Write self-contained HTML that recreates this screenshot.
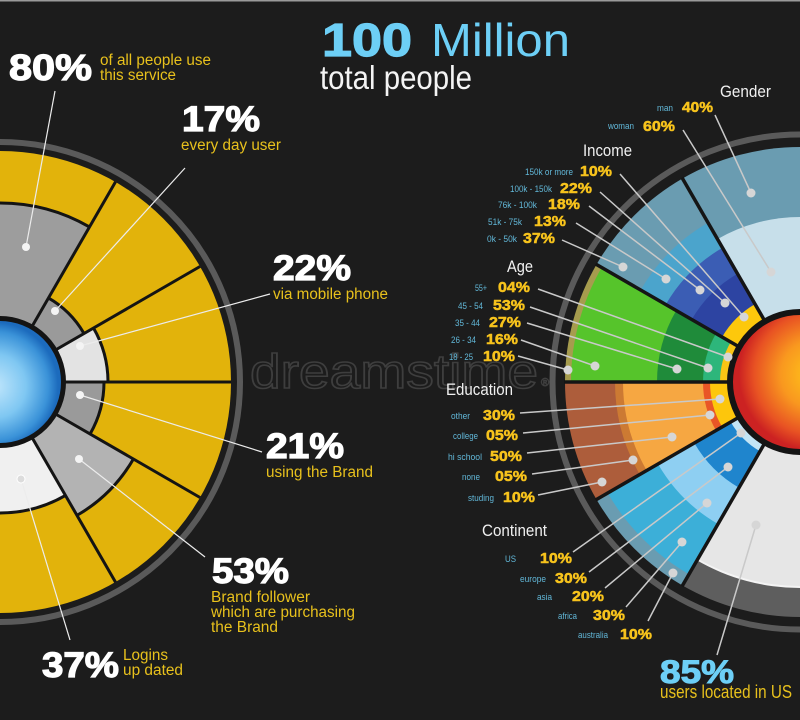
<!DOCTYPE html>
<html>
<head>
<meta charset="utf-8">
<style>
html,body{margin:0;padding:0;background:#1c1c1c;}
svg{display:block;}
text{font-family:"Liberation Sans",Arial,sans-serif;}
.pw{font-weight:bold;fill:#fff;stroke:#fff;stroke-width:1.2;}
.yd{fill:#e8c11c;font-size:15.5px;}
.hd{fill:#f0f0f0;font-size:17px;}
.sl{fill:#62b8d9;font-size:9.5px;}
.py{font-weight:bold;fill:#f7c31c;stroke:#f7c31c;stroke-width:0.5;font-size:14.5px;}
</style>
</head>
<body>
<svg width="800" height="720" viewBox="0 0 800 720" xmlns="http://www.w3.org/2000/svg">
<defs>
<radialGradient id="blue" gradientUnits="userSpaceOnUse" cx="-6" cy="386" r="64" fx="-6" fy="386">
<stop offset="0" stop-color="#c2e7fc"/>
<stop offset="0.5" stop-color="#7fc7f2"/>
<stop offset="0.85" stop-color="#3a92d8"/>
<stop offset="1" stop-color="#1c6bbd"/>
</radialGradient>
<radialGradient id="orng" gradientUnits="userSpaceOnUse" cx="815" cy="374" r="76" fx="815" fy="374">
<stop offset="0" stop-color="#ffc818"/>
<stop offset="0.45" stop-color="#f9981f"/>
<stop offset="0.8" stop-color="#e85223"/>
<stop offset="1" stop-color="#cc2222"/>
</radialGradient>
</defs>
<rect x="0" y="0" width="800" height="720" fill="#1c1c1c"/>
<rect x="0" y="0" width="800" height="1.5" fill="#9a9a9a"/>

<!-- watermark -->
<text x="250" y="388" font-size="48" fill="none" stroke="#3e3e3e" stroke-width="1.6" textLength="288" lengthAdjust="spacingAndGlyphs">dreamstime</text>
<text x="541" y="386" font-size="11" fill="none" stroke="#3e3e3e" stroke-width="0.8">®</text>

<!-- LEFT CHART -->
<circle cx="0" cy="382" r="240" fill="none" stroke="#5a5a5a" stroke-width="6"/>
<circle cx="0" cy="382" r="231" fill="#e2b30b"/>
<g fill="none">
<circle cx="0" cy="382" r="119.5" stroke="#9d9d9d" stroke-width="119" pathLength="360" stroke-dasharray="70 290" stroke-dashoffset="130"/>
<circle cx="0" cy="382" r="78.5" stroke="#9a9a9a" stroke-width="37" pathLength="360" stroke-dasharray="30 330" stroke-dashoffset="60"/>
<circle cx="0" cy="382" r="84" stroke="#e3e3e3" stroke-width="48" pathLength="360" stroke-dasharray="30 330" stroke-dashoffset="30"/>
<circle cx="0" cy="382" r="82" stroke="#9a9a9a" stroke-width="44" pathLength="360" stroke-dasharray="30 330" stroke-dashoffset="0"/>
<circle cx="0" cy="382" r="107" stroke="#b3b3b3" stroke-width="94" pathLength="360" stroke-dasharray="30 330" stroke-dashoffset="-30"/>
<circle cx="0" cy="382" r="95.5" stroke="#f0f0f0" stroke-width="71" pathLength="360" stroke-dasharray="70 290" stroke-dashoffset="-60"/>
</g>
<g fill="none" stroke="#141414" stroke-width="3">
<circle cx="0" cy="382" r="179" pathLength="360" stroke-dasharray="70 290" stroke-dashoffset="130"/>
<circle cx="0" cy="382" r="97" pathLength="360" stroke-dasharray="30 330" stroke-dashoffset="60"/>
<circle cx="0" cy="382" r="108" pathLength="360" stroke-dasharray="30 330" stroke-dashoffset="30"/>
<circle cx="0" cy="382" r="104" pathLength="360" stroke-dasharray="30 330" stroke-dashoffset="0"/>
<circle cx="0" cy="382" r="154" pathLength="360" stroke-dasharray="30 330" stroke-dashoffset="-30"/>
<circle cx="0" cy="382" r="131" pathLength="360" stroke-dasharray="70 290" stroke-dashoffset="-60"/>
<line x1="30" y1="330" x2="115.5" y2="181.9"/>
<line x1="52" y1="352" x2="200" y2="266.5"/>
<line x1="60" y1="382" x2="231" y2="382"/>
<line x1="52" y1="412" x2="200" y2="497.5"/>
<line x1="30" y1="434" x2="115.5" y2="582.1"/>
</g>
<circle cx="0" cy="382" r="63.5" fill="url(#blue)" stroke="#141414" stroke-width="5"/>

<!-- left leader lines -->
<g stroke="#ececec" stroke-width="1.2">
<line x1="26" y1="247" x2="55" y2="91"/>
<line x1="55" y1="311" x2="185" y2="168"/>
<line x1="80" y1="346" x2="270" y2="294"/>
<line x1="80" y1="395" x2="262" y2="452"/>
<line x1="79" y1="459" x2="205" y2="557"/>
<line x1="21" y1="479" x2="70" y2="640"/>
</g>
<g fill="#f4f4f4">
<circle cx="26" cy="247" r="4"/>
<circle cx="55" cy="311" r="4"/>
<circle cx="80" cy="346" r="4"/>
<circle cx="80" cy="395" r="4"/>
<circle cx="79" cy="459" r="4"/>
<circle cx="21" cy="479" r="4" fill="#dcdcdc" stroke="#fff" stroke-width="1"/>
</g>

<!-- RIGHT CHART -->
<circle cx="800" cy="382" r="247.5" fill="none" stroke="#5a5a5a" stroke-width="6"/>
<g stroke="none">
<!-- Gender 60..120 -->
<path fill="#6a9cb1" d="M800,382 L917.5,178.5 A235,235 0 0 0 682.5,178.5 Z"/>
<path fill="#c7dfea" d="M800,382 L882.5,239.1 A165,165 0 0 0 717.5,239.1 Z"/>
<!-- Income 120..150 -->
<path fill="#6a9cb1" d="M800,382 L682.5,178.5 A235,235 0 0 0 596.5,264.5 Z"/>
<path fill="#4ba4cc" d="M800,382 L708,222.7 A184,184 0 0 0 640.7,290 Z"/>
<path fill="#3b5db4" d="M800,382 L722.5,247.8 A155,155 0 0 0 665.8,304.5 Z"/>
<path fill="#2d44a2" d="M800,382 L737.5,273.7 A125,125 0 0 0 691.7,319.5 Z"/>
<path fill="#fdc80c" d="M800,382 L755,304.1 A90,90 0 0 0 722.1,337 Z"/>
<!-- Age 150..180 -->
<path fill="#a69c4e" d="M800,382 L596.5,264.5 A235,235 0 0 0 565,382 Z"/>
<path fill="#56c42b" d="M800,382 L601.7,267.5 A229,229 0 0 0 571,382 Z"/>
<path fill="#1f8b3a" d="M800,382 L676.2,310.5 A143,143 0 0 0 657,382 Z"/>
<path fill="#2db67b" d="M800,382 L716,333.5 A97,97 0 0 0 703,382 Z"/>
<path fill="#f9c515" d="M800,382 L730.7,342 A80,80 0 0 0 720,382 Z"/>
<!-- Education 180..210 -->
<path fill="#ad5d3b" d="M800,382 L565,382 A235,235 0 0 0 596.5,499.5 Z"/>
<path fill="#cc7a33" d="M800,382 L615,382 A185,185 0 0 0 639.8,474.5 Z"/>
<path fill="#f6a742" d="M800,382 L623,382 A177,177 0 0 0 646.7,470.5 Z"/>
<path fill="#e95626" d="M800,382 L703,382 A97,97 0 0 0 716,430.5 Z"/>
<path fill="#fdc60c" d="M800,382 L710,382 A90,90 0 0 0 722.1,427 Z"/>
<!-- Continent 210..240 -->
<path fill="#6a9cb1" d="M800,382 L596.5,499.5 A235,235 0 0 0 682.5,585.5 Z"/>
<path fill="#3cafd8" d="M800,382 L607.7,493 A222,222 0 0 0 689,574.3 Z"/>
<path fill="#8ecff2" d="M800,382 L658,464 A164,164 0 0 0 718,524 Z"/>
<path fill="#1f85cd" d="M800,382 L694.3,443 A122,122 0 0 0 739,487.7 Z"/>
<path fill="#c3e5f5" d="M800,382 L730.7,422 A80,80 0 0 0 760,451.3 Z"/>
<!-- US 240..300 -->
<path fill="#5e5e5e" d="M800,382 L682.5,585.5 A235,235 0 0 0 917.5,585.5 Z"/>
<path fill="#f4f4f4" d="M800,382 L697,560.4 A206,206 0 0 0 903,560.4 Z"/>
<path fill="#e6e6e6" d="M800,382 L698,558.7 A204,204 0 0 0 902,558.7 Z"/>
</g>
<g stroke="#151515" stroke-width="3.5">
<line x1="766" y1="323.1" x2="682" y2="177.6"/>
<line x1="741.1" y1="348" x2="595.6" y2="264"/>
<line x1="732" y1="382" x2="564" y2="382"/>
<line x1="741.1" y1="416" x2="595.6" y2="500"/>
<line x1="766" y1="440.9" x2="682" y2="586.4"/>
</g>
<circle cx="800" cy="382" r="70" fill="url(#orng)" stroke="#141414" stroke-width="6"/>

<!-- right leader lines -->
<g stroke="#c9c9c9" stroke-width="1.5">
<line x1="715" y1="115" x2="751" y2="193"/>
<line x1="683" y1="130" x2="771" y2="272"/>
<line x1="620" y1="174" x2="744" y2="317"/>
<line x1="600" y1="192" x2="725" y2="303"/>
<line x1="589" y1="206" x2="700" y2="290"/>
<line x1="576" y1="223" x2="666" y2="279"/>
<line x1="562" y1="240" x2="623" y2="267"/>
<line x1="538" y1="289" x2="728" y2="357"/>
<line x1="530" y1="307" x2="708" y2="368"/>
<line x1="527" y1="323" x2="677" y2="369"/>
<line x1="521" y1="340" x2="595" y2="366"/>
<line x1="518" y1="356" x2="568" y2="370"/>
<line x1="520" y1="413" x2="720" y2="399"/>
<line x1="523" y1="433" x2="710" y2="415"/>
<line x1="527" y1="453" x2="672" y2="437"/>
<line x1="532" y1="474" x2="633" y2="460"/>
<line x1="538" y1="495" x2="602" y2="482"/>
<line x1="573" y1="552" x2="741" y2="433"/>
<line x1="589" y1="572" x2="728" y2="467"/>
<line x1="605" y1="588" x2="707" y2="503"/>
<line x1="626" y1="607" x2="682" y2="542"/>
<line x1="648" y1="621" x2="673" y2="573"/>
<line x1="756" y1="525" x2="717" y2="655"/>
</g>
<g fill="#d6d6d6">
<circle cx="751" cy="193" r="4.5"/>
<circle cx="771" cy="272" r="4.5"/>
<circle cx="744" cy="317" r="4.5"/>
<circle cx="725" cy="303" r="4.5"/>
<circle cx="700" cy="290" r="4.5"/>
<circle cx="666" cy="279" r="4.5"/>
<circle cx="623" cy="267" r="4.5"/>
<circle cx="728" cy="357" r="4.5"/>
<circle cx="708" cy="368" r="4.5"/>
<circle cx="677" cy="369" r="4.5"/>
<circle cx="595" cy="366" r="4.5"/>
<circle cx="568" cy="370" r="4.5"/>
<circle cx="720" cy="399" r="4.5"/>
<circle cx="710" cy="415" r="4.5"/>
<circle cx="672" cy="437" r="4.5"/>
<circle cx="633" cy="460" r="4.5"/>
<circle cx="602" cy="482" r="4.5"/>
<circle cx="741" cy="433" r="4.5"/>
<circle cx="728" cy="467" r="4.5"/>
<circle cx="707" cy="503" r="4.5"/>
<circle cx="682" cy="542" r="4.5"/>
<circle cx="673" cy="573" r="4.5"/>
<circle cx="756" cy="525" r="4.5"/>
</g>

<!-- TITLE -->
<text x="322" y="56" font-size="46" font-weight="bold" fill="#6dcff6" stroke="#6dcff6" stroke-width="1.2" textLength="90" lengthAdjust="spacingAndGlyphs">100</text>
<text x="431" y="56" font-size="46" fill="#6dcff6" textLength="139" lengthAdjust="spacingAndGlyphs">Million</text>
<text x="320" y="89" font-size="33" fill="#f4f4f4" textLength="152" lengthAdjust="spacingAndGlyphs">total people</text>

<!-- LEFT TEXT -->
<text class="pw" x="9" y="80" font-size="36" textLength="83" lengthAdjust="spacingAndGlyphs">80%</text>
<text class="yd" x="100" y="65" textLength="111" lengthAdjust="spacingAndGlyphs">of all people use</text>
<text class="yd" x="100" y="80" textLength="76" lengthAdjust="spacingAndGlyphs">this service</text>

<text class="pw" x="182" y="131" font-size="35" textLength="78" lengthAdjust="spacingAndGlyphs">17%</text>
<text class="yd" x="181" y="150" textLength="100" lengthAdjust="spacingAndGlyphs">every day user</text>

<text class="pw" x="273" y="280" font-size="35" textLength="78" lengthAdjust="spacingAndGlyphs">22%</text>
<text class="yd" x="273" y="299" textLength="115" lengthAdjust="spacingAndGlyphs">via mobile phone</text>

<text class="pw" x="266" y="458" font-size="35" textLength="78" lengthAdjust="spacingAndGlyphs">21%</text>
<text class="yd" x="266" y="477" textLength="107" lengthAdjust="spacingAndGlyphs">using the Brand</text>

<text class="pw" x="212" y="583" font-size="35" textLength="77" lengthAdjust="spacingAndGlyphs">53%</text>
<text class="yd" x="211" y="602" textLength="99" lengthAdjust="spacingAndGlyphs">Brand follower</text>
<text class="yd" x="211" y="617" textLength="144" lengthAdjust="spacingAndGlyphs">which are purchasing</text>
<text class="yd" x="211" y="632" textLength="67" lengthAdjust="spacingAndGlyphs">the Brand</text>

<text class="pw" x="42" y="677" font-size="35" textLength="77" lengthAdjust="spacingAndGlyphs">37%</text>
<text class="yd" x="123" y="660" textLength="45" lengthAdjust="spacingAndGlyphs">Logins</text>
<text class="yd" x="123" y="675" textLength="60" lengthAdjust="spacingAndGlyphs">up dated</text>

<!-- RIGHT TEXT -->
<text class="hd" x="720" y="97" textLength="51" lengthAdjust="spacingAndGlyphs">Gender</text>
<text class="sl" x="657" y="111" textLength="16" lengthAdjust="spacingAndGlyphs">man</text>
<text class="py" x="682" y="112" textLength="31" lengthAdjust="spacingAndGlyphs">40%</text>
<text class="sl" x="608" y="129" textLength="26" lengthAdjust="spacingAndGlyphs">woman</text>
<text class="py" x="643" y="131" textLength="32" lengthAdjust="spacingAndGlyphs">60%</text>

<text class="hd" x="583" y="156" textLength="49" lengthAdjust="spacingAndGlyphs">Income</text>
<text class="sl" x="525" y="175" textLength="48" lengthAdjust="spacingAndGlyphs">150k or more</text>
<text class="py" x="580" y="176" textLength="32" lengthAdjust="spacingAndGlyphs">10%</text>
<text class="sl" x="510" y="192" textLength="42" lengthAdjust="spacingAndGlyphs">100k - 150k</text>
<text class="py" x="560" y="193" textLength="32" lengthAdjust="spacingAndGlyphs">22%</text>
<text class="sl" x="498" y="208" textLength="39" lengthAdjust="spacingAndGlyphs">76k - 100k</text>
<text class="py" x="548" y="209" textLength="32" lengthAdjust="spacingAndGlyphs">18%</text>
<text class="sl" x="488" y="225" textLength="34" lengthAdjust="spacingAndGlyphs">51k - 75k</text>
<text class="py" x="534" y="226" textLength="32" lengthAdjust="spacingAndGlyphs">13%</text>
<text class="sl" x="487" y="242" textLength="30" lengthAdjust="spacingAndGlyphs">0k - 50k</text>
<text class="py" x="523" y="243" textLength="32" lengthAdjust="spacingAndGlyphs">37%</text>

<text class="hd" x="507" y="272" textLength="26" lengthAdjust="spacingAndGlyphs">Age</text>
<text class="sl" x="475" y="291" textLength="12" lengthAdjust="spacingAndGlyphs">55+</text>
<text class="py" x="498" y="292" textLength="32" lengthAdjust="spacingAndGlyphs">04%</text>
<text class="sl" x="458" y="309" textLength="25" lengthAdjust="spacingAndGlyphs">45 - 54</text>
<text class="py" x="493" y="310" textLength="32" lengthAdjust="spacingAndGlyphs">53%</text>
<text class="sl" x="455" y="326" textLength="25" lengthAdjust="spacingAndGlyphs">35 - 44</text>
<text class="py" x="489" y="327" textLength="32" lengthAdjust="spacingAndGlyphs">27%</text>
<text class="sl" x="451" y="343" textLength="25" lengthAdjust="spacingAndGlyphs">26 - 34</text>
<text class="py" x="486" y="344" textLength="32" lengthAdjust="spacingAndGlyphs">16%</text>
<text class="sl" x="449" y="360" textLength="24" lengthAdjust="spacingAndGlyphs">18 - 25</text>
<text class="py" x="483" y="361" textLength="32" lengthAdjust="spacingAndGlyphs">10%</text>

<text class="hd" x="446" y="395" textLength="67" lengthAdjust="spacingAndGlyphs">Education</text>
<text class="sl" x="451" y="419" textLength="19" lengthAdjust="spacingAndGlyphs">other</text>
<text class="py" x="483" y="420" textLength="32" lengthAdjust="spacingAndGlyphs">30%</text>
<text class="sl" x="453" y="439" textLength="25" lengthAdjust="spacingAndGlyphs">college</text>
<text class="py" x="486" y="440" textLength="32" lengthAdjust="spacingAndGlyphs">05%</text>
<text class="sl" x="448" y="460" textLength="34" lengthAdjust="spacingAndGlyphs">hi school</text>
<text class="py" x="490" y="461" textLength="32" lengthAdjust="spacingAndGlyphs">50%</text>
<text class="sl" x="462" y="480" textLength="18" lengthAdjust="spacingAndGlyphs">none</text>
<text class="py" x="495" y="481" textLength="32" lengthAdjust="spacingAndGlyphs">05%</text>
<text class="sl" x="468" y="501" textLength="26" lengthAdjust="spacingAndGlyphs">studing</text>
<text class="py" x="503" y="502" textLength="32" lengthAdjust="spacingAndGlyphs">10%</text>

<text class="hd" x="482" y="536" textLength="65" lengthAdjust="spacingAndGlyphs">Continent</text>
<text class="sl" x="505" y="562" textLength="11" lengthAdjust="spacingAndGlyphs">US</text>
<text class="py" x="540" y="563" textLength="32" lengthAdjust="spacingAndGlyphs">10%</text>
<text class="sl" x="520" y="582" textLength="26" lengthAdjust="spacingAndGlyphs">europe</text>
<text class="py" x="555" y="583" textLength="32" lengthAdjust="spacingAndGlyphs">30%</text>
<text class="sl" x="537" y="600" textLength="15" lengthAdjust="spacingAndGlyphs">asia</text>
<text class="py" x="572" y="601" textLength="32" lengthAdjust="spacingAndGlyphs">20%</text>
<text class="sl" x="558" y="619" textLength="19" lengthAdjust="spacingAndGlyphs">africa</text>
<text class="py" x="593" y="620" textLength="32" lengthAdjust="spacingAndGlyphs">30%</text>
<text class="sl" x="578" y="638" textLength="30" lengthAdjust="spacingAndGlyphs">australia</text>
<text class="py" x="620" y="639" textLength="32" lengthAdjust="spacingAndGlyphs">10%</text>

<text x="660" y="683" font-size="32" font-weight="bold" fill="#6dcff6" stroke="#6dcff6" stroke-width="1" textLength="74" lengthAdjust="spacingAndGlyphs">85%</text>
<text x="660" y="698" font-size="18" fill="#e8c11c" textLength="132" lengthAdjust="spacingAndGlyphs">users located in US</text>
</svg>
</body>
</html>
